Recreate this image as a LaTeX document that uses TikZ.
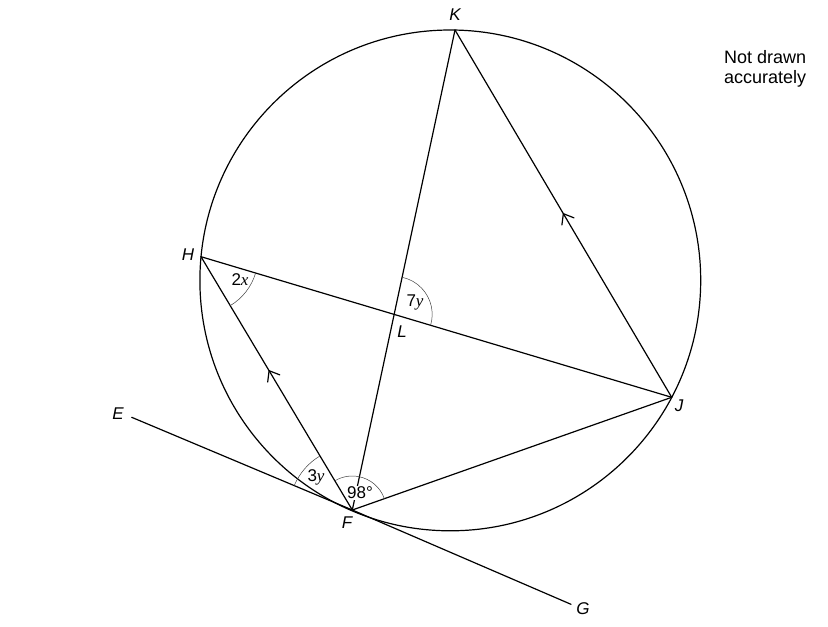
\documentclass[tikz,border=0pt]{standalone}
\usepackage{fontspec}
\setmainfont{Liberation Sans}
\newfontfamily\varfont{Liberation Serif}
\usetikzlibrary{angles,decorations.markings,calc}
\newcommand{\vx}[1]{{\varfont\itshape #1}}
\begin{document}
\begin{tikzpicture}[x=1pt,y=-1pt,
  geo/.style={line width=1.2pt, line cap=round, line join=round},
  anglemark/.style={draw=black!75, line width=0.5pt},
  lbl/.style={font=\fontsize{17}{19}\selectfont\itshape, inner sep=0pt},
  alab/.style={font=\fontsize{17}{19}\selectfont, inner sep=1pt},
  parmark/.style={postaction={decorate, decoration={markings,
     mark=at position #1 with {\draw[line width=1.2pt, line cap=round, line join=miter] (-9pt,-7pt) -- (0pt,0pt) -- (-9pt,7pt);}}}}
]
\useasboundingbox (0,0) rectangle (828,627);
\coordinate (O) at (450.3,280.4);
\coordinate (H) at (201,256.7);
\coordinate (K) at (455,30);
\coordinate (J) at (671.7,397.3);
\coordinate (F) at (352.3,510);
\coordinate (E) at (131.7,417.3);
\coordinate (G) at (571,604.3);
\coordinate (L) at (intersection of H--J and K--F);

\draw[geo] (O) circle (250.4);
\draw[geo] (E) -- (F) -- (G);
\draw[geo] (H) -- (J);
\draw[geo] (K) -- (F);
\draw[geo] (F) -- (J);
\draw[geo, parmark=0.55] (F) -- (H);
\draw[geo, parmark=0.5] (J) -- (K);

\pic[anglemark, angle radius=57pt] {angle=F--H--J};
\pic[anglemark, angle radius=38pt] {angle=J--L--K};
\pic[anglemark, angle radius=63pt] {angle=H--F--E};
\pic[anglemark, angle radius=34pt] {angle=J--F--H};

\node[lbl] (Kl) at (455,15) {K};
\node[lbl] (Hl) at (188,255) {H};
\node[lbl] (Jl) at (679,406) {J};
\node[lbl] (Ll) at (402,332) {L};
\node[lbl] (El) at (118,414) {E};
\node[lbl] (Fl) at (347,523) {F};
\node[lbl] (Gl) at (583,609) {G};

\node[alab] (a2x) at (240,280) {2\vx{x}};
\node[alab] (a7y) at (415,302) {7\vx{y}};
\node[alab] (a3y) at (316,477) {3\vx{y}};
\node[alab, fill=white, inner sep=0.5pt] (a98) at (360,493) {98\textdegree};

\node[font=\fontsize{18}{20}\selectfont, align=left, anchor=north west, inner sep=0pt] (note) at (724,50) {Not drawn\\accurately};
\end{tikzpicture}
\end{document}
